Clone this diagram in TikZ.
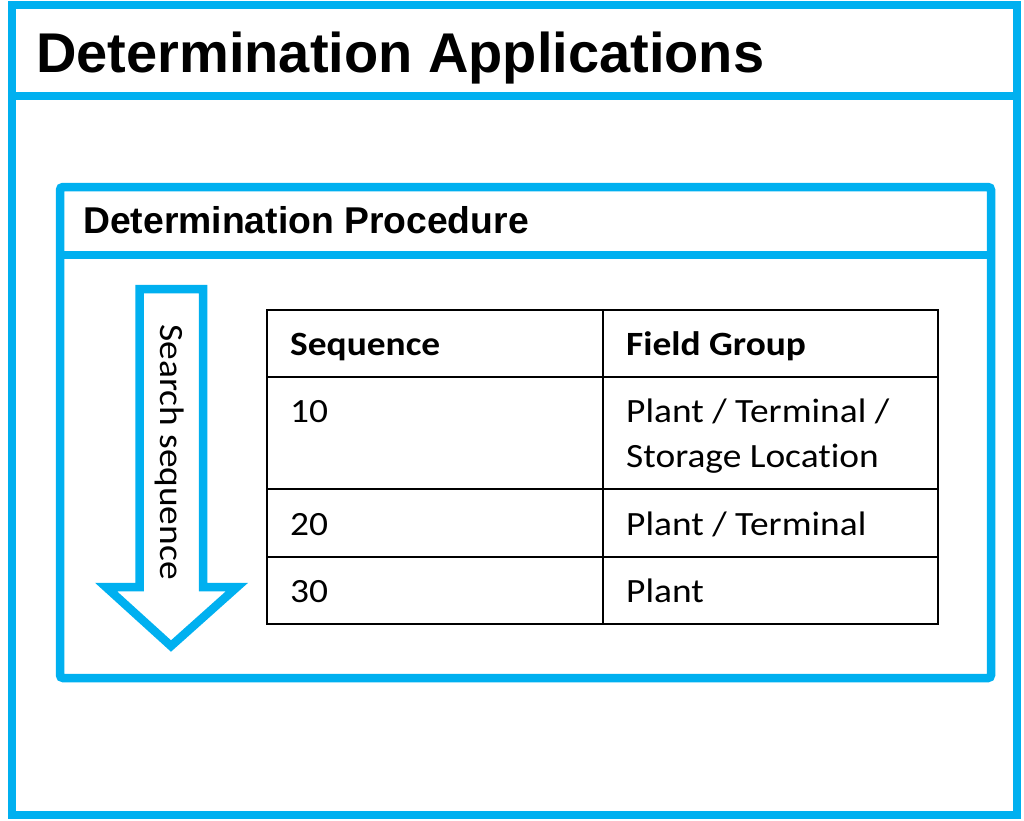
\documentclass[tikz,border=0pt]{standalone}
\usepackage{fontspec}
\setmainfont{Liberation Sans}
\newfontfamily\calib[Ligatures=NoCommon]{Carlito}
\definecolor{sapblue}{HTML}{00B0F0}
\newcommand{\wide}[1]{\scalebox{1.1}[1]{#1}}
\begin{document}
\begin{tikzpicture}[x=1pt,y=-1pt,
  frame/.style={draw=sapblue,line width=8.5pt},
  tline/.style={draw=black,line width=2.5pt},
  celltext/.style={anchor=base west,inner sep=0pt,font=\calib\fontsize{34}{40}\selectfont},
  headtext/.style={anchor=base west,inner sep=0pt,font=\calib\bfseries\fontsize{34}{40}\selectfont}]
\useasboundingbox (0,0) rectangle (1024,820);
\fill[white] (0,0) rectangle (1024,820);
% outer frame
\draw[frame] (12,5) rectangle (1017,815);
\draw[frame] (12,96) -- (1017,96);
\node[anchor=base west,inner sep=0pt,font=\bfseries\fontsize{56}{60}\selectfont] (title) at (36,72) {Determination Applications};
% inner frame
\draw[frame,rounded corners=3pt] (60,187) rectangle (991,678);
\draw[frame] (60,255) -- (991,255);
\node[anchor=base west,inner sep=0pt,font=\bfseries\fontsize{37.3}{40}\selectfont] (proc) at (83,233) {Determination Procedure};
% arrow
\draw[frame,line join=miter] (139.5,289) -- (203,289) -- (203,587) -- (237,587) -- (171,646) -- (106,587) -- (139.5,587) -- cycle;
\node[rotate=-90,inner sep=0pt,font=\calib\fontsize{34}{40}\selectfont] (search) at (170,452) {\wide{Search sequence}};
% table
\draw[tline] (267,310) rectangle (938,624);
\draw[tline] (267,377) -- (938,377);
\draw[tline] (267,489) -- (938,489);
\draw[tline] (267,557) -- (938,557);
\draw[tline] (603,310) -- (603,624);
\node[headtext] (h1) at (290,355) {\wide{Sequence}};
\node[headtext] (h2) at (626,355) {\wide{Field Group}};
\node[celltext] (r1a) at (290,422) {\wide{10}};
\node[celltext] (r1b) at (626,422) {\wide{Plant / Terminal /}};
\node[celltext] (r1c) at (626,467) {\wide{Storage Location}};
\node[celltext] (r2a) at (290,535) {\wide{20}};
\node[celltext] (r2b) at (626,535) {\wide{Plant / Terminal}};
\node[celltext] (r3a) at (290,602) {\wide{30}};
\node[celltext] (r3b) at (626,602) {\wide{Plant}};
\end{tikzpicture}
\end{document}
